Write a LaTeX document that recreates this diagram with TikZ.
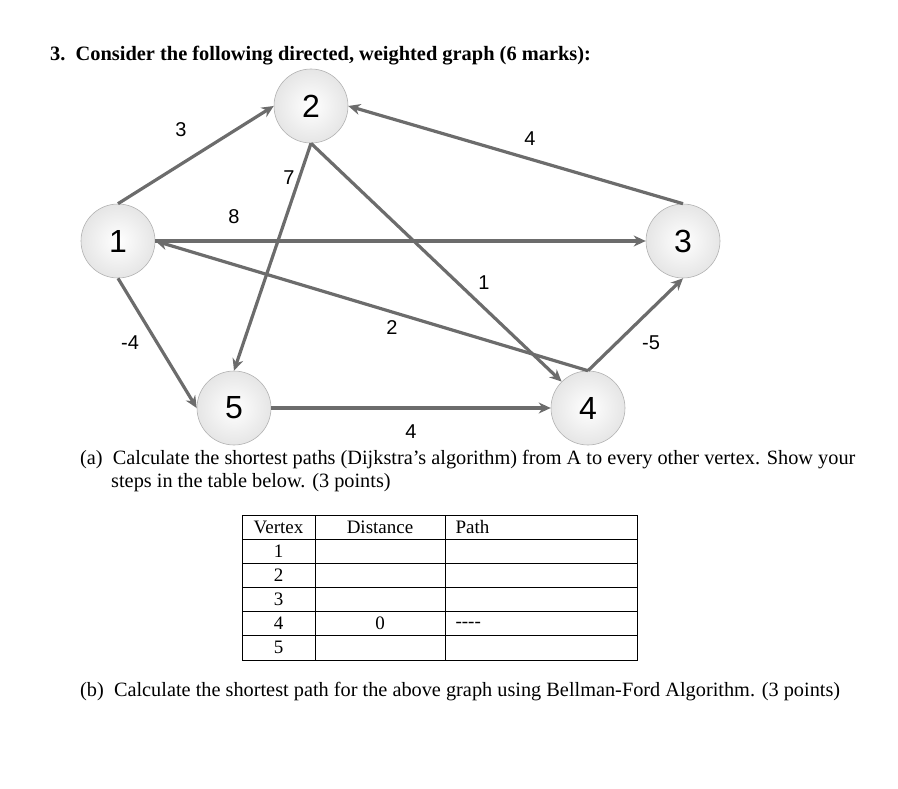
\documentclass[tikz,border=0pt]{standalone}
\usepackage{fontspec}
\setmainfont{Liberation Serif}
\newfontfamily\arialf{Liberation Sans}
\usetikzlibrary{arrows.meta}
\begin{document}
\begin{tikzpicture}[x=1pt,y=-1pt,
  vtx/.style={circle,minimum size=74pt,inner sep=0pt,draw=gray!60,line width=0.6pt,
    inner color=white,outer color=gray!20,font=\arialf\fontsize{32}{32}\selectfont},
  edge/.style={draw=gray!85!black,line width=3.2pt,-{Stealth[length=12pt,width=11pt]}},
  wt/.style={font=\arialf\fontsize{20}{20}\selectfont},
  txt/.style={anchor=west,font=\fontsize{20.3}{23}\selectfont,inner sep=0pt},
  cell/.style={font=\fontsize{19}{22}\selectfont}]
\useasboundingbox (0,0) rectangle (898,789);
\node[txt,font=\bfseries\fontsize{20.4}{23}\selectfont] (title) at (50,56) {3.\ \ Consider the following directed, weighted graph (6 marks):};
\node[vtx] (n1) at (118,241) {1};
\node[vtx] (n2) at (311,106) {2};
\node[vtx] (n3) at (683,241) {3};
\node[vtx] (n4) at (588,408) {4};
\node[vtx] (n5) at (234,408) {5};
\draw[edge] (n1.north) -- (n2.west);
\draw[edge] (n2.south) -- (n5.north);
\draw[edge] (n2.south) -- (n4.north west);
\draw[edge] (n3.north) -- (n2.east);
\draw[edge] (n1.east) -- (n3.west);
\draw[edge] (n4.north) -- (n1.east);
\draw[edge] (n1.south) -- (n5.west);
\draw[edge] (n5.east) -- (n4.west);
\draw[edge] (n4.north) -- (n3.south);
\node[wt] (w12) at (181,130) {3};
\node[wt] (w25) at (289,178) {7};
\node[wt] (w24) at (484,283) {1};
\node[wt] (w32) at (530,139) {4};
\node[wt] (w13) at (234,217) {8};
\node[wt] (w41) at (392,328) {2};
\node[wt] (w15) at (130,343) {-4};
\node[wt] (w54) at (411,432) {4};
\node[wt] (w43) at (651,343) {-5};
\node[txt] (ta) at (80,460) {(a)\ \ Calculate the shortest paths (Dijkstra’s algorithm) from A to every other vertex. Show your};
\node[txt] (ta2) at (111,483) {steps in the table below. (3 points)};
\draw[line width=0.8pt] (242,515) rectangle (637,660);
\foreach \y in {539,563,587,611,635} \draw[line width=0.8pt] (242,\y) -- (637,\y);
\draw[line width=0.8pt] (315,515) -- (315,660);
\draw[line width=0.8pt] (445,515) -- (445,660);
\node[cell] (h1) at (278.5,527) {Vertex};
\node[cell] (h2) at (380,527) {Distance};
\node[cell,anchor=west] (h3) at (452,527) {Path};
\node[cell] (r1) at (278.5,551) {1};
\node[cell] (r2) at (278.5,575) {2};
\node[cell] (r3) at (278.5,599) {3};
\node[cell] (r4) at (278.5,623) {4};
\node[cell] (r5) at (278.5,647) {5};
\node[cell] (d4) at (380,623) {0};
\node[cell,anchor=west] (p4) at (452,625) {{-}{-}{-}{-}};
\node[txt] (tb) at (80,692) {(b)\ \ Calculate the shortest path for the above graph using Bellman-Ford Algorithm. (3 points)};
\end{tikzpicture}
\end{document}
